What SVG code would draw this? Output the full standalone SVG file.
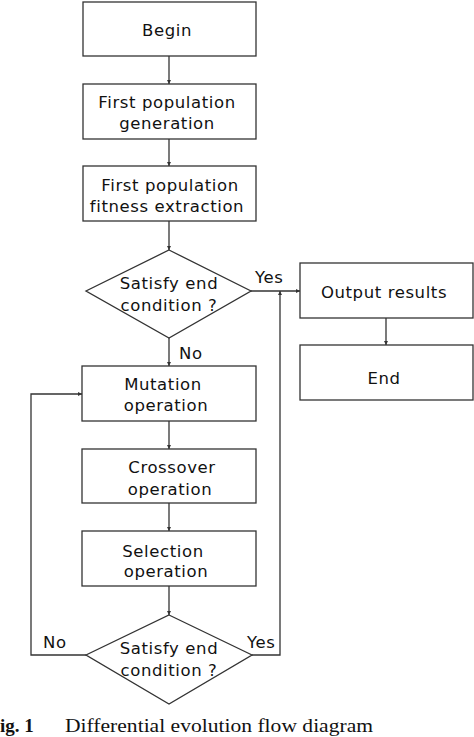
<svg xmlns="http://www.w3.org/2000/svg" width="474" height="737" viewBox="0 0 474 737">
<style>
.box{fill:#fff;stroke:#333;stroke-width:1.3}
.t{font-family:"DejaVu Sans",sans-serif;font-size:16.5px;letter-spacing:0.6px;fill:#111;text-anchor:middle}
.l{font-family:"DejaVu Sans",sans-serif;font-size:16.5px;letter-spacing:0.6px;fill:#111}
.c{fill:none;stroke:#333;stroke-width:1.3}
.cap{font-family:"Liberation Serif",serif;font-size:19px;fill:#111}
</style>
<defs>
<marker id="a" markerWidth="4" markerHeight="4" refX="4" refY="2" orient="auto" markerUnits="userSpaceOnUse">
<path d="M0,0 L4,2 L0,4 Z" fill="#333"/>
</marker>
</defs>
<rect width="474" height="737" fill="#fff"/>
<g id="connectors">
<line class="c" x1="169" y1="56" x2="169" y2="84" marker-end="url(#a)"/>
<line class="c" x1="169" y1="139" x2="169" y2="166" marker-end="url(#a)"/>
<line class="c" x1="169" y1="221" x2="169" y2="250" marker-end="url(#a)"/>
<line class="c" x1="251" y1="291" x2="300" y2="291" marker-end="url(#a)"/>
<line class="c" x1="169" y1="338" x2="169" y2="366" marker-end="url(#a)"/>
<line class="c" x1="169" y1="421" x2="169" y2="449" marker-end="url(#a)"/>
<line class="c" x1="169" y1="503" x2="169" y2="531" marker-end="url(#a)"/>
<line class="c" x1="169" y1="586" x2="169" y2="615" marker-end="url(#a)"/>
<polyline class="c" points="86,655 31,655 31,394 82,394" marker-end="url(#a)"/>
<polyline class="c" points="252,655 280,655 280,291" marker-end="url(#a)"/>
<line class="c" x1="386" y1="318" x2="386" y2="345" marker-end="url(#a)"/>
<text class="l" x="255" y="283">Yes</text>
<text class="l" x="179" y="359">No</text>
<text class="l" x="43" y="648">No</text>
<text class="l" x="247" y="648">Yes</text>
</g>
<g id="begin">
<rect class="box" x="83" y="2" width="173" height="54"/>
<text class="t" x="167" y="36">Begin</text>
</g>
<g id="first-population-generation">
<rect class="box" x="83" y="84" width="173" height="55"/>
<text class="t" x="167" y="108">First population</text>
<text class="t" x="167" y="129">generation</text>
</g>
<g id="fitness-extraction">
<rect class="box" x="83" y="166" width="173" height="55"/>
<text class="t" x="170" y="191">First population</text>
<text class="t" x="167" y="212">fitness extraction</text>
</g>
<g id="decision-1">
<polygon class="box" points="169,250 251,291 169,338 86,291"/>
<text class="t" x="169" y="289">Satisfy end</text>
<text class="t" x="169" y="311">condition ?</text>
</g>
<g id="output-results">
<rect class="box" x="300" y="263" width="173" height="55"/>
<text class="t" x="384" y="298">Output results</text>
</g>
<g id="end">
<rect class="box" x="300" y="345" width="173" height="55"/>
<text class="t" x="384" y="384">End</text>
</g>
<g id="mutation">
<rect class="box" x="82" y="366" width="174" height="55"/>
<text class="t" x="163" y="390">Mutation</text>
<text class="t" x="166" y="411">operation</text>
</g>
<g id="crossover">
<rect class="box" x="82" y="449" width="174" height="54"/>
<text class="t" x="172" y="473">Crossover</text>
<text class="t" x="170" y="495">operation</text>
</g>
<g id="selection">
<rect class="box" x="82" y="531" width="174" height="55"/>
<text class="t" x="163" y="557">Selection</text>
<text class="t" x="166" y="577">operation</text>
</g>
<g id="decision-2">
<polygon class="box" points="169,615 252,655 169,704 86,655"/>
<text class="t" x="169" y="654">Satisfy end</text>
<text class="t" x="169" y="676">condition ?</text>
</g>
<g id="caption">
<text class="cap" x="0" y="732" font-weight="bold">ig. 1</text>
<text class="cap" x="65" y="732" textLength="308" lengthAdjust="spacingAndGlyphs">Differential evolution flow diagram</text>
</g>
</svg>
